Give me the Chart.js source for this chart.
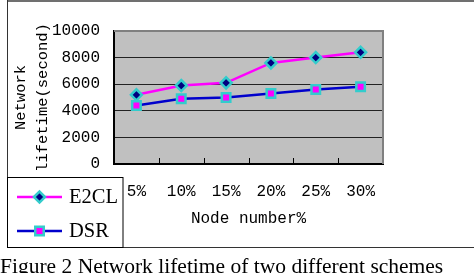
<!DOCTYPE html>
<html>
<head>
<meta charset="utf-8">
<script src="https://cdn.jsdelivr.net/npm/chart.js@4.4.0/dist/chart.umd.min.js"></script>
<style>
  html, body { margin: 0; padding: 0; background: #fff; }
  canvas { display: block; }
</style>
</head>
<body>
<canvas id="chart" width="474" height="273"></canvas>
<script>
// Data
const nodePct = ['5%', '10%', '15%', '20%', '25%', '30%'];
const e2clLifetime = [5200, 5900, 6100, 7600, 8000, 8400];
const dsrLifetime = [4400, 4900, 5000, 5300, 5600, 5800];
const yTicks = [0, 2000, 4000, 6000, 8000, 10000];

const monoFont = "'Liberation Mono', 'DejaVu Sans Mono', monospace";
const serifFont = "'Liberation Serif', 'DejaVu Serif', serif";

const series = [
    { label: 'E2CL', data: e2clLifetime, line: '#ff00ff', style: 'rectRot', fill: '#000080', radius: 5.5 },
    { label: 'DSR', data: dsrLifetime, line: '#0000cc', style: 'rect', fill: '#ff00ff', radius: 6 }
];

// gray plot background, frame lines, caption
const decor = {
    id: 'decor',
    beforeDraw(chart) {
        const { ctx, chartArea: a } = chart;
        ctx.save();
        ctx.fillStyle = '#c0c0c0';
        ctx.fillRect(a.left, a.top, a.right - a.left, a.bottom - a.top);
        ctx.restore();
    },
    beforeDatasetsDraw(chart) {
        const { ctx, chartArea: a } = chart;
        const x = chart.scales.x;
        ctx.save();
        // top and right edges of plot area
        ctx.strokeStyle = '#808080';
        ctx.lineWidth = 2;
        ctx.beginPath();
        ctx.moveTo(a.left, a.top);
        ctx.lineTo(a.right, a.top);
        ctx.lineTo(a.right, a.bottom);
        ctx.stroke();
        // small inside ticks between categories
        ctx.strokeStyle = '#000';
        ctx.lineWidth = 1;
        ctx.beginPath();
        for (let i = 0; i < nodePct.length - 1; i++) {
            const px = Math.round((x.getPixelForValue(i) + x.getPixelForValue(i + 1)) / 2) + 0.5;
            ctx.moveTo(px, a.bottom);
            ctx.lineTo(px, a.bottom - 6);
        }
        ctx.stroke();
        ctx.restore();
    },
    afterDraw(chart) {
        const { ctx } = chart;
        ctx.save();
        // outer frame
        ctx.strokeStyle = '#707070';
        ctx.lineWidth = 2;
        ctx.beginPath();
        ctx.moveTo(7, 1);
        ctx.lineTo(474, 1);
        ctx.stroke();
        ctx.strokeStyle = '#333';
        ctx.lineWidth = 1;
        ctx.beginPath();
        ctx.moveTo(7.5, 0);
        ctx.lineTo(7.5, 247.5);
        ctx.lineTo(474, 247.5);
        ctx.stroke();

        // legend box
        ctx.strokeStyle = '#000';
        ctx.strokeRect(7.5, 177.5, 115.5, 70);
        const rows = [197, 231];
        series.forEach((s, i) => {
            const y = rows[i];
            ctx.strokeStyle = s.line;
            ctx.lineWidth = 2.5;
            ctx.beginPath();
            ctx.moveTo(17, y);
            ctx.lineTo(62, y);
            ctx.stroke();
            ctx.fillStyle = s.fill;
            ctx.strokeStyle = '#33cccc';
            ctx.lineWidth = 2.5;
            Chart.helpers.drawPoint(ctx, { pointStyle: s.style, radius: s.radius, borderWidth: 2.5, rotation: 0 }, 39.5, y);
            ctx.fillStyle = '#000';
            ctx.font = '20.5px ' + serifFont;
            ctx.textBaseline = 'middle';
            ctx.textAlign = 'left';
            ctx.fillText(s.label, 69, y + 1);
        });

        // caption
        ctx.fillStyle = '#000';
        ctx.font = '21.5px ' + serifFont;
        ctx.textBaseline = 'alphabetic';
        ctx.fillText('Figure 2 Network lifetime of two different schemes', 0, 273);
        ctx.restore();
    }
};

new Chart(document.getElementById('chart'), {
    type: 'line',
    data: {
        labels: nodePct,
        datasets: series.map(s => ({
            label: s.label,
            data: s.data,
            borderColor: s.line,
            borderWidth: 2.5,
            pointStyle: s.style,
            pointRadius: s.radius,
            pointBackgroundColor: s.fill,
            pointBorderColor: '#33cccc',
            pointBorderWidth: 2.5,
            tension: 0
        }))
    },
    options: {
        responsive: false,
        animation: false,
        layout: { padding: { top: 31, right: 91, bottom: 43, left: 0 } },
        plugins: {
            legend: { display: false },
            tooltip: { enabled: false }
        },
        scales: {
            x: {
                offset: true,
                grid: { display: true, drawOnChartArea: false, drawTicks: false },
                border: { display: true, color: '#000', width: 2 },
                ticks: { color: '#000', padding: 18, font: { family: monoFont, size: 16 } },
                title: {
                    display: true, text: 'Node number%', color: '#000',
                    font: { family: monoFont, size: 16 }, padding: { top: 0, bottom: 2 }
                },
                afterFit(scale) { scale.height = 66; }
            },
            y: {
                min: yTicks[0],
                max: yTicks[yTicks.length - 1],
                afterBuildTicks(scale) { scale.ticks = yTicks.map(v => ({ value: v })); },
                grid: { color: '#222', lineWidth: 1, drawTicks: false },
                border: { display: true, color: '#000', width: 2 },
                ticks: {
                    color: '#000', padding: 14, font: { family: monoFont, size: 16 },
                    callback: v => String(v)
                },
                title: {
                    display: true, text: ['Network', 'lifetime(second)'], color: '#000',
                    font: { family: monoFont, size: 15.5, lineHeight: 1.4 }, padding: { top: 10.5, bottom: 0 }
                },
                afterFit(scale) { scale.width = 114; }
            }
        }
    },
    plugins: [decor]
});
</script>
</body>
</html>
